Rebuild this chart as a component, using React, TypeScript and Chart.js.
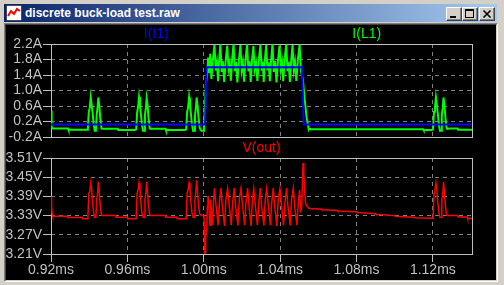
import React, { useEffect, useRef } from "react";
import { Chart, registerables } from "chart.js";

Chart.register(...registerables);

const FONT = '"Liberation Sans", Arial, sans-serif';
const AXIS_GRAY = "#C0C0C0";
const GRID_GRAY = "#808080";

const windowTitle = "discrete buck-load test.raw";

// ---- axes ----
const timeMin = 0.92;
const timeMax = 1.1405;
const timeTicks = [0.92, 0.96, 1.0, 1.04, 1.08, 1.12];
const timeTickLabels = ["0.92ms", "0.96ms", "1.00ms", "1.04ms", "1.08ms", "1.12ms"];

const currentMin = -0.2;
const currentMax = 2.2;
const currentTicks = [-0.2, 0.2, 0.6, 1.0, 1.4, 1.8, 2.2];
const currentTickLabels = ["-0.2A", "0.2A", "0.6A", "1.0A", "1.4A", "1.8A", "2.2A"];

const voltageMin = 3.21;
const voltageMax = 3.51;
const voltageTicks = [3.21, 3.27, 3.33, 3.39, 3.45, 3.51];
const voltageTickLabels = ["3.21V", "3.27V", "3.33V", "3.39V", "3.45V", "3.51V"];

// ---- series: I(I1) (load current step) ----
const iI1Label = "I(I1)";
const iI1Time = [0.92, 1.0007, 1.0015, 1.0514, 1.0524, 1.1405];
const iI1Value = [0.12, 0.12, 1.6, 1.6, 0.12, 0.12];

// ---- series: I(L1) (inductor current) ----
const iL1Label = "I(L1)";
const iL1Time = [
  0.92, 0.9202, 0.9205, 0.9208, 0.929, 0.9292, 0.939,
  0.9393, 0.9398, 0.9403, 0.9408, 0.9413, 0.9418, 0.9423, 0.9429, 0.9435, 0.9439, 0.9444, 0.9448, 0.9453, 0.9458, 0.9464, 0.9469,
  0.955, 0.9552, 0.964,
  0.9646, 0.9651, 0.9656, 0.9661, 0.9666, 0.9671, 0.9676, 0.9682, 0.9688, 0.9692, 0.9697, 0.9701, 0.9706, 0.9711, 0.9717, 0.9722,
  0.98, 0.9802, 0.9902,
  0.9908, 0.9913, 0.9918, 0.9923, 0.9928, 0.9933, 0.9938, 0.9944, 0.995, 0.9954, 0.9959, 0.9963, 0.9968, 0.9973, 0.9979, 0.9988,
  1.0001, 1.0006, 1.0012, 1.0018, 1.0023, 1.0028, 1.0034, 1.004, 1.0047,
  1.0056, 1.0063, 1.0069, 1.0075, 1.0081,
  1.0087, 1.0094, 1.01, 1.0107, 1.0115,
  1.0123, 1.013, 1.0136, 1.0142, 1.0149,
  1.0156, 1.0163, 1.0169, 1.0176, 1.0184,
  1.0192, 1.0199, 1.0205, 1.0211, 1.0219,
  1.0227, 1.0234, 1.024, 1.0246, 1.0253,
  1.026, 1.0267, 1.0274, 1.0281, 1.0289,
  1.0297, 1.0304, 1.0309, 1.0314, 1.032,
  1.0327, 1.0334, 1.034, 1.0346, 1.0353,
  1.036, 1.0367, 1.0374, 1.0381, 1.0389,
  1.0397, 1.0404, 1.041, 1.0416, 1.0424,
  1.0432, 1.0439, 1.0445, 1.0451, 1.0458,
  1.0465, 1.0472, 1.0478, 1.0485, 1.0493,
  1.0502, 1.0509, 1.0514,
  1.0519, 1.0528, 1.0539, 1.055,
  1.0552, 1.056, 1.115, 1.1152, 1.1195,
  1.1201, 1.1206, 1.1211, 1.1216, 1.1221, 1.1226, 1.1231, 1.1237, 1.1243, 1.1247, 1.1252, 1.1256, 1.1261, 1.1266, 1.1272, 1.1277,
  1.129, 1.133, 1.1332, 1.1405,
];
const iL1Value = [
  0.48, 0.3, 0.05, 0.02, 0.02, -0.01, -0.01,
  0.0, 0.45, 0.55, 0.82, 0.62, 0.42, 0.15, -0.04, -0.04, 0.35, 0.58, 0.82, 0.6, 0.3, 0.02, 0.01,
  0.01, -0.02, -0.02,
  0.0, 0.42, 0.58, 0.83, 0.6, 0.4, 0.12, -0.04, -0.04, 0.38, 0.55, 0.8, 0.62, 0.28, 0.02, 0.01,
  0.01, -0.02, -0.02,
  0.0, 0.45, 0.55, 0.82, 0.6, 0.4, 0.14, -0.04, -0.04, 0.36, 0.56, 0.82, 0.58, 0.3, 0.03, -0.04,
  -0.04, 0.6, 1.2, 1.4, 1.85, 1.45, 1.95, 1.3, 1.75,
  2.18, 1.52, 1.72, 1.24, 1.8,
  2.2, 1.48, 1.76, 1.22, 1.78,
  2.16, 1.55, 1.7, 1.25, 1.82,
  2.19, 1.5, 1.74, 1.21, 1.78,
  2.17, 1.53, 1.72, 1.23, 1.8,
  2.2, 1.49, 1.76, 1.22, 1.79,
  2.15, 1.54, 1.71, 1.25, 1.81,
  2.19, 1.51, 1.75, 1.22, 1.78,
  2.17, 1.52, 1.73, 1.24, 1.8,
  2.2, 1.48, 1.76, 1.21, 1.79,
  2.16, 1.55, 1.72, 1.24, 1.82,
  2.19, 1.5, 1.74, 1.22, 1.78,
  2.17, 1.53, 1.73, 1.25, 1.8,
  2.18, 1.5, 1.4,
  1.3, 0.8, 0.3, 0.0,
  0.02, 0.0, 0.0, -0.02, -0.02,
  0.0, 0.45, 0.56, 0.82, 0.62, 0.4, 0.14, -0.04, -0.04, 0.36, 0.57, 0.82, 0.6, 0.3, 0.02, 0.01,
  0.02, 0.02, -0.01, -0.01,
];

// ---- series: V(out) ----
const vOutLabel = "V(out)";
const vOutTime = [
  0.92, 0.9203, 0.9206, 0.9209, 0.9286, 0.9287, 0.9364, 0.9365, 0.9392,
  0.9393, 0.9398, 0.9403, 0.9408, 0.9413, 0.9418, 0.9423, 0.9429, 0.9435, 0.9439, 0.9444, 0.9448, 0.9453, 0.9458, 0.9464, 0.9469,
  0.954, 0.9541, 0.96, 0.9601, 0.9645,
  0.9646, 0.9651, 0.9656, 0.9661, 0.9666, 0.9671, 0.9676, 0.9682, 0.9688, 0.9692, 0.9697, 0.9701, 0.9706, 0.9711, 0.9717, 0.9722,
  0.98, 0.9801, 0.986, 0.9861, 0.9907,
  0.9908, 0.9913, 0.9918, 0.9923, 0.9928, 0.9933, 0.9938, 0.9944, 0.995, 0.9954, 0.9959, 0.9963, 0.9968, 0.9973, 0.9979, 0.9988,
  1.0001, 1.0003, 1.0005, 1.0008, 1.001, 1.0013, 1.0016, 1.0019, 1.0022, 1.0025, 1.0029, 1.0033, 1.0037, 1.0041, 1.0046, 1.0051,
  1.0056, 1.0063, 1.0069, 1.0075, 1.0082,
  1.009, 1.0097, 1.0103, 1.0109, 1.0116,
  1.0125, 1.0132, 1.0138, 1.0144, 1.0151,
  1.016, 1.0167, 1.0173, 1.0179, 1.0186,
  1.0195, 1.0202, 1.0208, 1.0214, 1.0221,
  1.023, 1.0237, 1.0242, 1.0248, 1.0255,
  1.0262, 1.0269, 1.0275, 1.0281, 1.0288,
  1.0296, 1.0303, 1.0309, 1.0315, 1.0322,
  1.033, 1.0337, 1.0343, 1.0349, 1.0356,
  1.0364, 1.0371, 1.0377, 1.0383, 1.039,
  1.0399, 1.0406, 1.0412, 1.0418, 1.0425,
  1.0434, 1.0441, 1.0447, 1.0453, 1.046,
  1.0469, 1.0476, 1.0482, 1.0488, 1.0495,
  1.0502, 1.0508, 1.0513, 1.0517, 1.052, 1.0524, 1.0528, 1.0533, 1.054, 1.0548, 1.0552,
  1.062, 1.0622, 1.07, 1.0702, 1.08, 1.0802, 1.09, 1.0902, 1.1, 1.1002, 1.11, 1.1102, 1.12,
  1.1201, 1.1206, 1.1211, 1.1216, 1.1221, 1.1226, 1.1231, 1.1237, 1.1243, 1.1247, 1.1252, 1.1256, 1.1261, 1.1266, 1.1272, 1.1277,
  1.133, 1.1332, 1.138, 1.1382, 1.1405,
];
const vOutValue = [
  3.39, 3.36, 3.335, 3.328, 3.328, 3.324, 3.324, 3.32, 3.32,
  3.322, 3.4, 3.405, 3.432, 3.41, 3.37, 3.34, 3.325, 3.325, 3.38, 3.4, 3.436, 3.4, 3.36, 3.332, 3.33,
  3.33, 3.325, 3.325, 3.32, 3.32,
  3.321, 3.4, 3.41, 3.433, 3.41, 3.37, 3.34, 3.325, 3.324, 3.38, 3.4, 3.435, 3.4, 3.36, 3.332, 3.33,
  3.33, 3.325, 3.325, 3.32, 3.32,
  3.321, 3.4, 3.41, 3.432, 3.41, 3.37, 3.34, 3.325, 3.324, 3.38, 3.41, 3.44, 3.4, 3.36, 3.335, 3.33,
  3.33, 3.28, 3.212, 3.215, 3.26, 3.285, 3.29, 3.36, 3.39, 3.39, 3.33, 3.3, 3.38, 3.34, 3.3, 3.37,
  3.415, 3.37, 3.335, 3.3, 3.37,
  3.416, 3.36, 3.33, 3.298, 3.38,
  3.414, 3.37, 3.335, 3.3, 3.37,
  3.416, 3.36, 3.33, 3.299, 3.38,
  3.415, 3.37, 3.335, 3.3, 3.37,
  3.416, 3.36, 3.33, 3.298, 3.38,
  3.414, 3.37, 3.335, 3.3, 3.37,
  3.416, 3.36, 3.33, 3.299, 3.38,
  3.415, 3.37, 3.335, 3.3, 3.37,
  3.416, 3.36, 3.33, 3.298, 3.38,
  3.414, 3.37, 3.335, 3.3, 3.37,
  3.416, 3.36, 3.33, 3.299, 3.38,
  3.415, 3.36, 3.33, 3.3, 3.37,
  3.41, 3.34, 3.36, 3.44, 3.494, 3.46, 3.41, 3.37, 3.36, 3.355, 3.352,
  3.35, 3.348, 3.346, 3.344, 3.342, 3.34, 3.336, 3.334, 3.33, 3.328, 3.325, 3.323, 3.322,
  3.322, 3.4, 3.41, 3.432, 3.41, 3.37, 3.34, 3.325, 3.324, 3.38, 3.4, 3.435, 3.4, 3.36, 3.332, 3.33,
  3.33, 3.326, 3.326, 3.321, 3.321,
];

const zip = (xs: number[], ys: number[]) => xs.map((x, i) => ({ x, y: ys[i] }));

const ltPlugin = {
  id: "ltFrame",
  beforeDatasetsDraw(chart: any) {
    const { ctx, chartArea: a } = chart;
    ctx.save();
    ctx.setLineDash([]);
    ctx.strokeStyle = AXIS_GRAY;
    ctx.lineWidth = 1;
    const l = Math.round(a.left);
    const t = Math.round(a.top);
    const r = Math.round(a.right);
    const b = Math.round(a.bottom);
    ctx.strokeRect(l + 0.5, t + 0.5, r - l, b - t);
    ctx.restore();
  },
  afterDraw(chart: any, _args: any, opts: any) {
    const { ctx, chartArea: a } = chart;
    ctx.save();
    ctx.font = `14px ${FONT}`;
    ctx.textAlign = "center";
    ctx.textBaseline = "middle";
    for (const t of opts.titles || []) {
      ctx.fillStyle = t.color;
      ctx.fillText(t.text, a.left + (a.right - a.left) * t.pos, a.top - 10);
    }
    ctx.restore();
  },
};

type Series = { label: string; xs: number[]; ys: number[]; color: string; width: number };

function makeConfig(opts: {
  series: Series[];
  yMin: number;
  yMax: number;
  yTicks: number[];
  yLabels: string[];
  showX: boolean;
  xHeight: number;
  padTop: number;
  padBottom: number;
  titles: { text: string; color: string; pos: number }[];
}) {
  const lastY = opts.yTicks.length - 1;
  return {
    type: "line" as const,
    data: {
      datasets: opts.series.map((s) => ({
        label: s.label,
        data: zip(s.xs, s.ys),
        borderColor: s.color,
        backgroundColor: s.color,
        borderWidth: s.width,
        pointRadius: 0,
        tension: 0,
        fill: false,
      })),
    },
    options: {
      responsive: false,
      animation: false as const,
      events: [],
      layout: { padding: { left: 0, right: 32, top: opts.padTop, bottom: opts.padBottom } },
      plugins: {
        legend: { display: false },
        tooltip: { enabled: false },
        ltFrame: { titles: opts.titles },
      },
      scales: {
        x: {
          type: "linear" as const,
          min: timeMin,
          max: timeMax,
          afterBuildTicks: (s: any) => {
            s.ticks = timeTicks.map((v) => ({ value: v }));
          },
          afterFit: (s: any) => {
            s.height = opts.xHeight;
            s.paddingLeft = 0;
            s.paddingRight = 0;
          },
          ticks: {
            display: opts.showX,
            color: AXIS_GRAY,
            font: { family: FONT, size: 14 },
            padding: 0,
            maxRotation: 0,
            autoSkip: false,
            callback: (_v: any, i: number) => timeTickLabels[i],
          },
          grid: {
            color: (c: any) => (c.index === 0 ? "transparent" : GRID_GRAY),
            lineWidth: 1,
            drawTicks: opts.showX,
            tickLength: 8,
            tickColor: AXIS_GRAY,
            tickBorderDash: [],
          },
          border: { display: false, dash: [4, 4] },
        },
        y: {
          type: "linear" as const,
          min: opts.yMin,
          max: opts.yMax,
          afterBuildTicks: (s: any) => {
            s.ticks = opts.yTicks.map((v) => ({ value: v }));
          },
          afterFit: (s: any) => {
            s.width = 51;
            s.paddingTop = 0;
            s.paddingBottom = 0;
          },
          ticks: {
            color: AXIS_GRAY,
            font: { family: FONT, size: 14 },
            padding: 1,
            autoSkip: false,
            callback: (_v: any, i: number) => opts.yLabels[i],
          },
          grid: {
            color: (c: any) => (c.index === 0 || c.index === lastY ? "transparent" : GRID_GRAY),
            lineWidth: 1,
            drawTicks: true,
            tickLength: 8,
            tickColor: AXIS_GRAY,
            tickBorderDash: [],
          },
          border: { display: false, dash: [4, 4] },
        },
      },
    },
    plugins: [ltPlugin],
  };
}

function PlotCanvas({ top, height, config }: { top: number; height: number; config: any }) {
  const ref = useRef<HTMLCanvasElement | null>(null);
  useEffect(() => {
    if (!ref.current) return;
    const chart = new Chart(ref.current, config);
    return () => chart.destroy();
  }, []);
  return (
    <canvas
      ref={ref}
      width={504}
      height={height}
      style={{ position: "absolute", left: 0, top, width: 504, height, display: "block" }}
    />
  );
}

const currentConfig = makeConfig({
  series: [
    { label: iI1Label, xs: iI1Time, ys: iI1Value, color: "#0000FF", width: 2 },
    { label: iL1Label, xs: iL1Time, ys: iL1Value, color: "#00FF00", width: 2 },
  ],
  yMin: currentMin,
  yMax: currentMax,
  yTicks: currentTicks,
  yLabels: currentTickLabels,
  showX: false,
  xHeight: 0,
  padTop: 19,
  padBottom: 15,
  titles: [
    { text: iI1Label, color: "#0000FF", pos: 0.25 },
    { text: iL1Label, color: "#00FF00", pos: 0.75 },
  ],
});

const voltageConfig = makeConfig({
  series: [{ label: vOutLabel, xs: vOutTime, ys: vOutValue, color: "#FF0000", width: 1.5 }],
  yMin: voltageMin,
  yMax: voltageMax,
  yTicks: voltageTicks,
  yLabels: voltageTickLabels,
  showX: true,
  xHeight: 26,
  padTop: 18,
  padBottom: 0,
  titles: [{ text: vOutLabel, color: "#FF0000", pos: 0.5 }],
});

function WinButton({ left, children }: { left: number; children: React.ReactNode }) {
  return (
    <div
      style={{
        position: "absolute",
        left,
        top: 7,
        width: 16,
        height: 14,
        boxSizing: "border-box",
        background: "#D4D0C8",
        borderTop: "1px solid #FFFFFF",
        borderLeft: "1px solid #FFFFFF",
        borderRight: "1px solid #404040",
        borderBottom: "1px solid #404040",
        boxShadow: "inset -1px -1px 0 #808080",
      }}
    >
      <svg width={14} height={12} style={{ position: "absolute", left: 0, top: 0 }}>
        {children}
      </svg>
    </div>
  );
}

export default function App() {
  return (
    <div
      style={{
        position: "fixed",
        left: 0,
        top: 0,
        width: 504,
        height: 285,
        background: "#D4D0C8",
        overflow: "hidden",
      }}
    >
      {/* title bar */}
      <div
        style={{
          position: "absolute",
          left: 4,
          top: 4,
          width: 493,
          height: 18,
          background: "linear-gradient(to right, #0A246A, #A6CAF0)",
        }}
      />
      <svg width={16} height={16} style={{ position: "absolute", left: 6, top: 5 }}>
        <rect x={0.5} y={0.5} width={15} height={15} fill="#FFFFFF" stroke="#000000" strokeDasharray="1 1" />
        <polyline points="2,11 5,6 8,9 11,4 14,6" fill="none" stroke="#FF0000" strokeWidth={2} />
      </svg>
      <div
        style={{
          position: "absolute",
          left: 25,
          top: 4,
          height: 18,
          lineHeight: "18px",
          color: "#FFFFFF",
          fontFamily: FONT,
          fontWeight: "bold",
          fontSize: 12,
          whiteSpace: "nowrap",
        }}
      >
        {windowTitle}
      </div>
      <WinButton left={446}>
        <rect x={3} y={8} width={6} height={2} fill="#000" />
      </WinButton>
      <WinButton left={462}>
        <rect x={2.5} y={1.5} width={8} height={8} fill="none" stroke="#000" />
        <rect x={2} y={1} width={9} height={2} fill="#000" />
      </WinButton>
      <WinButton left={479}>
        <path d="M3.5 2.5 L10.5 9.5 M10.5 2.5 L3.5 9.5" stroke="#000" strokeWidth={1.6} />
      </WinButton>

      {/* sunken plot pane */}
      <div
        style={{
          position: "absolute",
          left: 4,
          top: 23,
          width: 494,
          height: 259,
          boxSizing: "border-box",
          borderTop: "1px solid #808080",
          borderLeft: "1px solid #808080",
          borderRight: "1px solid #FFFFFF",
          borderBottom: "1px solid #FFFFFF",
        }}
      >
        <div
          style={{
            width: "100%",
            height: "100%",
            boxSizing: "border-box",
            background: "#000000",
            borderTop: "1px solid #404040",
            borderLeft: "1px solid #404040",
            borderRight: "1px solid #D4D0C8",
            borderBottom: "1px solid #D4D0C8",
          }}
        />
      </div>

      <PlotCanvas top={140} height={140} config={voltageConfig} />
      <PlotCanvas top={25} height={127} config={currentConfig} />
    </div>
  );
}
